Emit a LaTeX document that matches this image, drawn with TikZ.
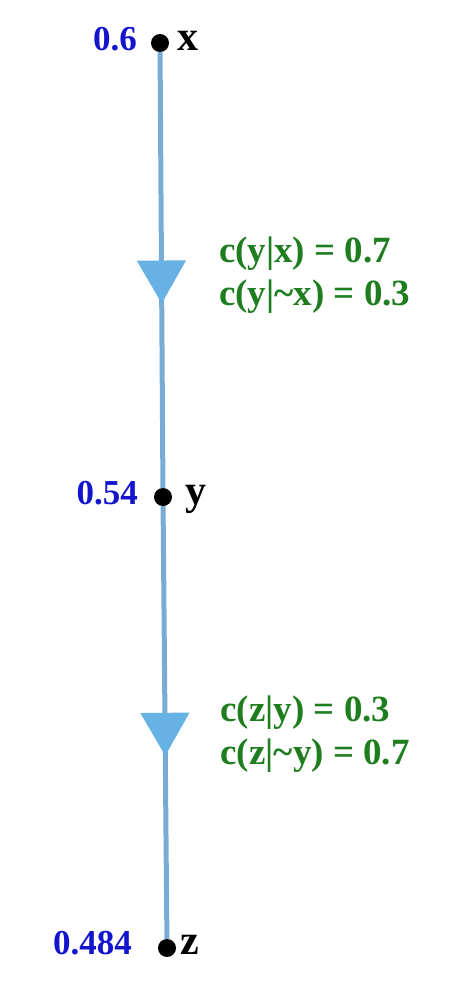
\documentclass[tikz,border=0pt]{standalone}
\usepackage{fontspec}
\setmainfont{Liberation Serif}
\usetikzlibrary{arrows.meta,
                decorations.markings}
\definecolor{edgeblue}{RGB}{120,172,212}
\definecolor{tipblue}{RGB}{102,178,228}
\definecolor{probblue}{RGB}{20,20,205}
\definecolor{condgreen}{RGB}{30,125,30}

\begin{document}
\begin{tikzpicture}%
    [x = 1pt, y = -1pt,
     dot/.style = {circle, fill = black, inner sep = 0pt, minimum size = 18pt},
     prob/.style = {text = probblue, inner sep = 0pt,
                    font = \fontsize{35}{40}\selectfont\bfseries},
     var/.style = {inner sep = 0pt, font = \fontsize{42}{48}\selectfont\bfseries},
     cond/.style = {text = condgreen, align = left, inner sep = 0pt,
                    font = \fontsize{37}{43}\selectfont\bfseries},
     edge/.style = {draw = edgeblue, line width = 5pt, postaction = {decorate},
                    decoration = {markings, mark = at position 0.577 with
                      {\arrow{Triangle[width = 48pt, length = 43pt, color = tipblue]}}}}]
    \useasboundingbox (0, 0) rectangle (474, 995);

    \node (x) [dot] at (160, 43) {};
    \node (y) [dot] at (163, 497) {};
    \node (z) [dot] at (167, 948) {};

    \node (px) [prob, anchor = base east] at (137, 51) {0.6};
    \node (py) [prob, anchor = base east] at (138, 504) {0.54};
    \node (pz) [prob, anchor = base east] at (132, 954) {0.484};

    \node (lx) [var, anchor = base west] at (177, 51) {x};
    \node (ly) [var, anchor = base west] at (185, 504) {y};
    \node (lz) [var, anchor = base west] at (180, 954) {z};

    \draw [edge] (x) -- node [cond, midway, anchor = west, xshift = 55pt, yshift = -5pt]
        {c(y|x) = 0.7\\c(y|\textasciitilde x) = 0.3} (y);
    \draw [edge] (y) -- node [cond, midway, anchor = west, xshift = 53pt, yshift = -12pt]
        {c(z|y) = 0.3\\c(z|\textasciitilde y) = 0.7} (z);
\end{tikzpicture}
\end{document}
